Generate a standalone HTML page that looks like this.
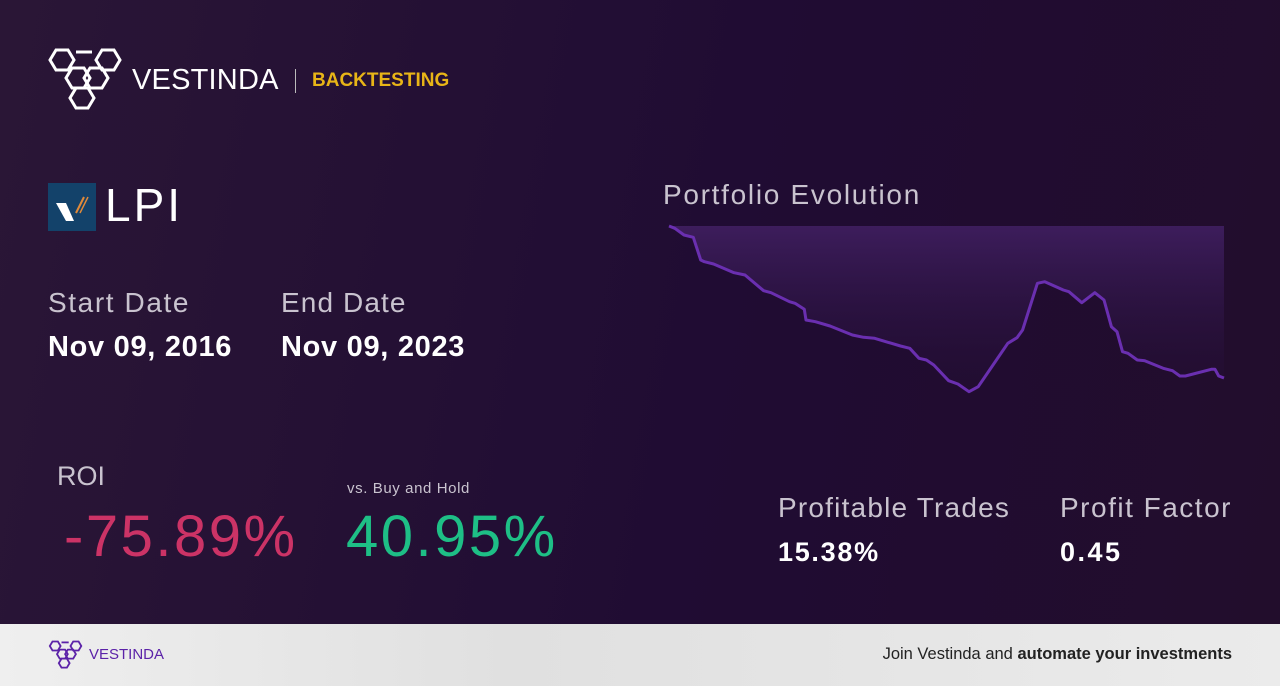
<!DOCTYPE html>
<html><head><meta charset="utf-8"><style>
*{margin:0;padding:0;box-sizing:border-box}
body{width:1280px;height:686px;overflow:hidden;font-family:"Liberation Sans",sans-serif;position:relative;background:linear-gradient(100deg,#2a1636 0%,#200c33 55%,#220d2c 100%)}
.a{position:absolute;white-space:nowrap}
.foot{position:absolute;left:0;top:624px;width:1280px;height:62px;background:linear-gradient(90deg,#efefef,#e0e0e0 40%,#ebebeb)}
</style></head><body>
<svg class="a" style="left:46px;top:46px" width="80" height="68" viewBox="0 0 80 68" fill="none" stroke="#fff" stroke-width="3">
<polygon points="10,4 22,4 28,14 22,24 10,24 4,14"/>
<polygon points="56,4 68,4 74,14 68,24 56,24 50,14"/>
<line x1="30" y1="6" x2="46" y2="6"/>
<polygon points="26,22 38,22 44,32 38,42 26,42 20,32"/>
<polygon points="44,22 56,22 62,32 56,42 44,42 38,32"/>
<polygon points="30,42 42,42 48,52 42,62 30,62 24,52"/>
</svg>
<div class="a" style="left:132px;top:64px;font-size:29px;color:#fff;letter-spacing:0.2px">VESTINDA</div>
<div class="a" style="left:295px;top:69px;width:1px;height:24px;background:#bbb"></div>
<div class="a" style="left:312px;top:70px;font-size:19px;font-weight:bold;color:#e8b517">BACKTESTING</div>
<div class="a" style="left:48px;top:183px;width:48px;height:48px;background:#13426a"></div>
<svg class="a" style="left:48px;top:183px" width="48" height="48"><polygon points="8,20 18,20 26,38 18,38" fill="#fff"/><line x1="28" y1="30" x2="36" y2="14" stroke="#e08a3a" stroke-width="2"/><line x1="32" y1="30" x2="40" y2="14" stroke="#e08a3a" stroke-width="1.5"/></svg>
<div class="a" style="left:105px;top:178px;font-size:46px;color:#fff;letter-spacing:3px">LPI</div>
<div class="a" style="left:48px;top:287px;font-size:28px;color:#c9c3cf;letter-spacing:1.6px">Start Date</div>
<div class="a" style="left:48px;top:331px;font-size:29px;font-weight:bold;color:#fff;letter-spacing:0.7px">Nov 09, 2016</div>
<div class="a" style="left:281px;top:287px;font-size:28px;color:#c9c3cf;letter-spacing:1.1px">End Date</div>
<div class="a" style="left:281px;top:331px;font-size:29px;font-weight:bold;color:#fff;letter-spacing:0.7px">Nov 09, 2023</div>
<div class="a" style="left:663px;top:179px;font-size:28px;color:#c9c3cf;letter-spacing:1.7px">Portfolio Evolution</div>
<svg class="a" style="left:0;top:0" width="1280" height="624">
<defs><linearGradient id="g" x1="0" y1="0" x2="0" y2="1"><stop offset="0" stop-color="#3d1d5c"/><stop offset="1" stop-color="#220d33" stop-opacity="0.3"/></linearGradient></defs>
<path d="M669,226 L1224,226 L1224,378 L1218.7,376 L1215,369.3 L1211.3,369.3 L1185.4,376 L1179.9,376 L1172.5,370.7 L1163.2,368.3 L1144.7,360.7 L1137.3,360 L1128,353.3 L1122.5,351.7 L1117,331.7 L1111.4,326.7 L1104,300 L1094.8,292.7 L1081.8,302.7 L1068.9,291.7 L1063.3,290 L1044.8,281.7 L1037.4,283.3 L1022.6,330 L1017,337.7 L1007.8,343.3 L993,365 L978.2,386.7 L969,391.7 L957.9,384 L948.6,380.7 L933.8,365 L926.4,360 L919,358.3 L909.8,348.3 L900.5,346 L874.6,338.3 L863.5,337.3 L852.4,335 L830,326 L815.4,321.7 L806,320 L804.3,309.3 L795,303.3 L789.5,301.7 L771,292.7 L763.6,290.7 L745,275 L734,272.7 L713.6,264 L704.4,261.7 L700.7,260 L693.3,237.3 L684,235 L674.8,228.3 Z" fill="url(#g)"/>
<polyline fill="none" stroke="#6a2fb0" stroke-width="3" stroke-linejoin="round" points="669,226 674.8,228.3 684,235 693.3,237.3 700.7,260 704.4,261.7 713.6,264 734,272.7 745,275 763.6,290.7 771,292.7 789.5,301.7 795,303.3 804.3,309.3 806,320 815.4,321.7 830,326 852.4,335 863.5,337.3 874.6,338.3 900.5,346 909.8,348.3 919,358.3 926.4,360 933.8,365 948.6,380.7 957.9,384 969,391.7 978.2,386.7 993,365 1007.8,343.3 1017,337.7 1022.6,330 1037.4,283.3 1044.8,281.7 1063.3,290 1068.9,291.7 1081.8,302.7 1094.8,292.7 1104,300 1111.4,326.7 1117,331.7 1122.5,351.7 1128,353.3 1137.3,360 1144.7,360.7 1163.2,368.3 1172.5,370.7 1179.9,376 1185.4,376 1211.3,369.3 1215,369.3 1218.7,376 1224,378"/>
</svg>
<div class="a" style="left:57px;top:461px;font-size:27px;color:#c9c3cf">ROI</div>
<div class="a" style="left:64px;top:503px;font-size:58px;color:#cc3366;letter-spacing:2.5px">-75.89%</div>
<div class="a" style="left:347px;top:480px;font-size:15px;color:#c9c3cf;letter-spacing:0.6px">vs. Buy and Hold</div>
<div class="a" style="left:346px;top:503px;font-size:58px;color:#1ebf86;letter-spacing:2.5px">40.95%</div>
<div class="a" style="left:778px;top:492px;font-size:28px;color:#c9c3cf;letter-spacing:1.2px">Profitable Trades</div>
<div class="a" style="left:778px;top:537px;font-size:27px;font-weight:bold;color:#fff;letter-spacing:1.7px">15.38%</div>
<div class="a" style="left:1060px;top:492px;font-size:28px;color:#c9c3cf;letter-spacing:1.5px">Profit Factor</div>
<div class="a" style="left:1060px;top:537px;font-size:27px;font-weight:bold;color:#fff;letter-spacing:2.5px">0.45</div>
<div class="foot">
<svg class="a" style="left:48px;top:15px" width="36" height="32" viewBox="0 0 80 68" fill="none" stroke="#5b22a8" stroke-width="4">
<polygon points="10,4 22,4 28,14 22,24 10,24 4,14"/><polygon points="56,4 68,4 74,14 68,24 56,24 50,14"/><line x1="30" y1="6" x2="46" y2="6"/><polygon points="26,22 38,22 44,32 38,42 26,42 20,32"/><polygon points="44,22 56,22 62,32 56,42 44,42 38,32"/><polygon points="30,42 42,42 48,52 42,62 30,62 24,52"/></svg>
<div class="a" style="left:89px;top:22px;font-size:15px;color:#5b22a8">VESTINDA</div>
<div class="a" style="right:48px;top:21px;font-size:16.5px;color:#222">Join Vestinda and <b>automate your investments</b></div>
</div>
</body></html>
